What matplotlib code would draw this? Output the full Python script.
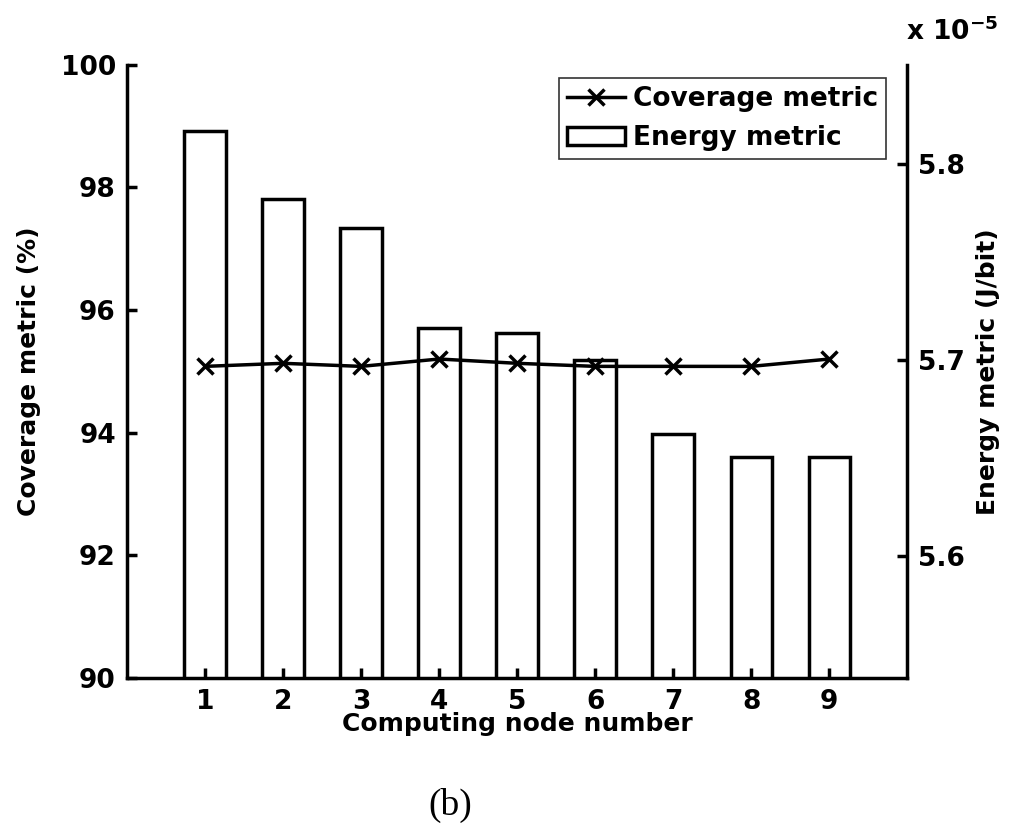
import matplotlib
matplotlib.use("Agg")
import matplotlib.pyplot as plt
import matplotlib.patches as mpatches

nodes = [1, 2, 3, 4, 5, 6, 7, 8, 9]
coverage = [95.08, 95.13, 95.08, 95.2, 95.13, 95.08, 95.08, 95.08, 95.2]
energy = [5.8168, 5.7821, 5.7673, 5.7163, 5.7138, 5.7000, 5.6622, 5.6505, 5.6505]
yticks_left = [90, 92, 94, 96, 98, 100]
yticks_right = [5.6, 5.7, 5.8]

plt.rcParams['font.family'] = 'DejaVu Sans'
plt.rcParams['font.weight'] = 'bold'
fig = plt.figure(figsize=(10.24, 8.4), dpi=100)
ax = fig.add_axes([0.124, 0.193, 0.762, 0.730])
ax2 = ax.twinx()
ax.set_zorder(2); ax.patch.set_visible(False)

ax2.bar(nodes, energy, width=0.53, color='white', edgecolor='black', linewidth=2.5)
ax2.set_ylim(5.5378, 5.8505)
ax2.set_yticks(yticks_right)
ax2.set_yticklabels([f"{v:.1f}" for v in yticks_right])
ax2.set_ylabel('Energy metric (J/bit)', fontsize=18, fontweight='bold', labelpad=8)

l, = ax.plot(nodes, coverage, color='black', marker='x', markersize=11, markeredgewidth=2.5, linewidth=2.5)
ax.set_xlim(0, 10)
ax.set_ylim(90, 100)
ax.set_xticks(nodes)
ax.set_yticks(yticks_left)
ax.set_xlabel('Computing node number', fontsize=18, fontweight='bold', labelpad=-2)
ax.set_ylabel('Coverage metric (%)', fontsize=18, fontweight='bold', labelpad=14)

for a in (ax, ax2):
    a.tick_params(direction='in', labelsize=19, width=2.5, length=7, pad=8)
    for s in a.spines.values():
        s.set_linewidth(2.5)
    a.spines['top'].set_visible(False)
ax.spines['right'].set_visible(False)
ax2.spines['left'].set_visible(False)
ax2.spines['bottom'].set_visible(False)

fig.text(0.885, 0.945, r'x 10$^{-5}$', fontsize=19, fontweight='bold', ha='left', va='bottom')

h2 = mpatches.Patch(facecolor='white', edgecolor='black', linewidth=2.5)
leg = ax.legend([l, h2], ['Coverage metric', 'Energy metric'], loc='upper right',
                bbox_to_anchor=(0.99, 1.0), fontsize=19, frameon=True, fancybox=False,
                edgecolor='black', handlelength=2.2, handletextpad=0.3, borderpad=0.3, labelspacing=0.5)
leg.get_frame().set_linewidth(1.2)

fig.text(0.44, 0.03, '(b)', fontsize=27, family='Liberation Serif', fontweight='normal', ha='center')
fig.savefig('out.png', dpi=100)
